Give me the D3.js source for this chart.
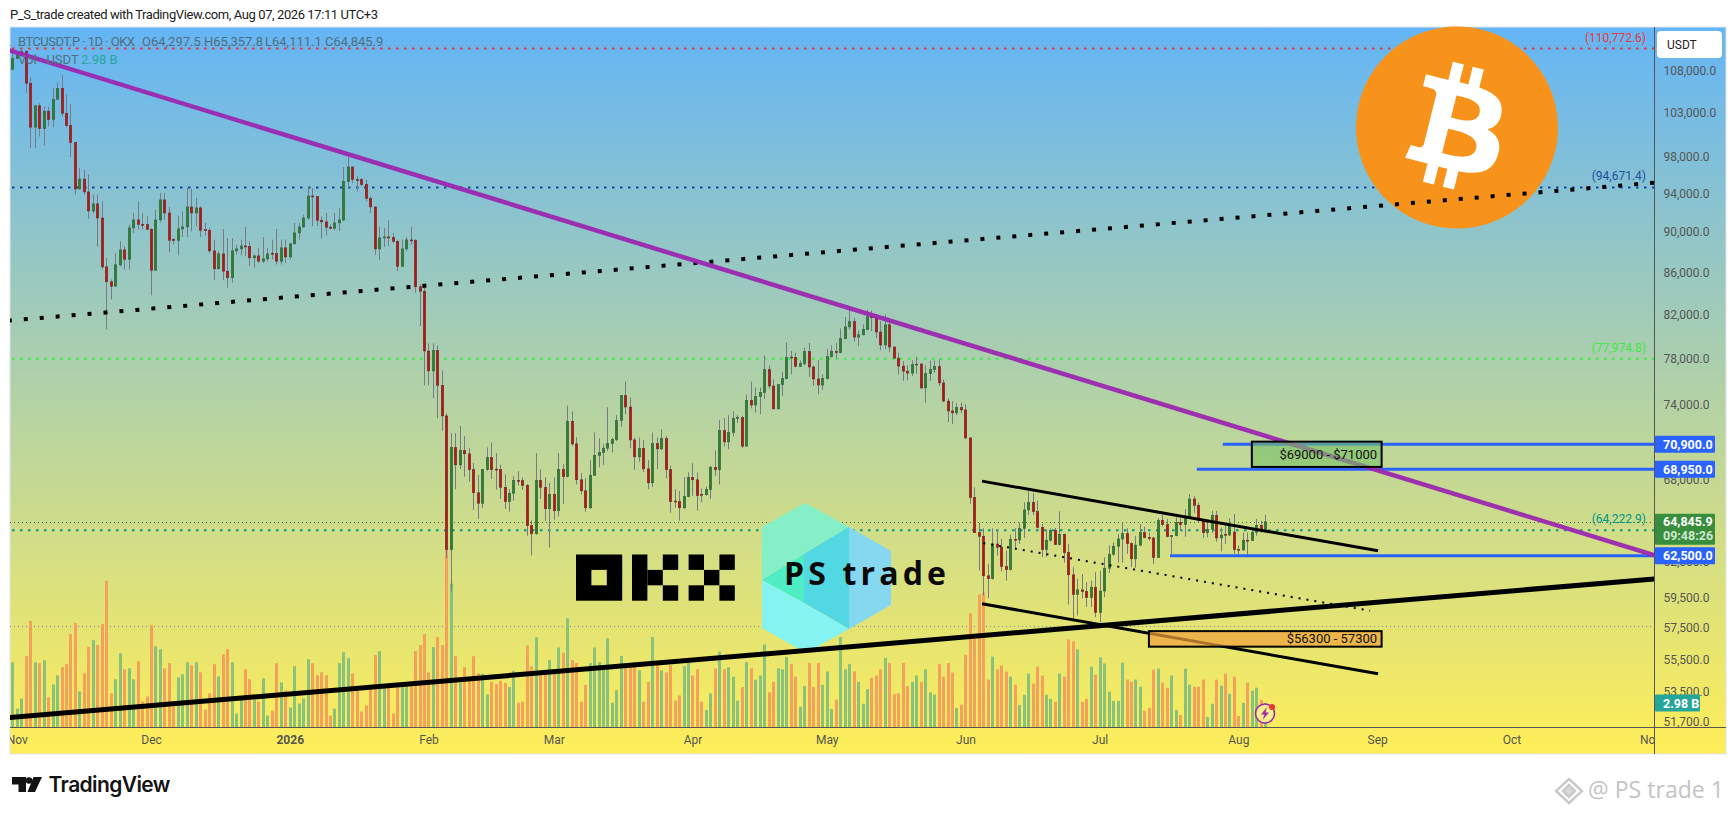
<!DOCTYPE html>
<html><head><meta charset="utf-8">
<script src="https://cdn.jsdelivr.net/npm/d3@7/dist/d3.min.js"></script>
<style>
html,body{margin:0;padding:0;background:#fff;overflow:hidden}
svg{display:block}
text{font-family:Roboto,"Liberation Sans",sans-serif}
</style></head><body>
<svg id="c" width="1736" height="815"></svg>
<script>
const firstDay = "2025-10-31";
const lastDay = "2026-08-07";
const opens = [108210,109560,109960,110440,106520,101350,103830,101190,103200,102230,
104600,105910,102960,101540,99600,94500,95570,94190,92180,92920,
91450,86530,85080,84660,86730,88210,87280,90430,91250,90800,
90770,90290,86200,91250,93340,91970,89250,89170,90330,90530,
92600,91970,92500,90260,90190,88110,86340,87810,86110,85470,
88110,88310,88600,88570,87420,87610,87090,87320,87880,87840,
87090,88410,87510,88810,89920,90530,91450,93760,93690,91210,
91050,90500,90400,90940,91250,95310,96880,95530,95500,94990,
93510,92600,88310,89410,89510,89440,89070,86590,88310,89210,
89170,84600,84180,78670,76920,78730,75680,73100,62840,70530,
69160,70300,70030,68780,67010,66220,68810,69740,68830,68780,
67420,66340,66970,67960,67930,67570,64560,63970,67960,67420,
65810,66890,65660,68810,68240,72660,70820,68000,67160,65880,
68340,69900,70140,70480,70850,71170,72720,74800,73840,71140,
69790,70460,68850,67770,70850,70420,71250,68780,66390,66340,
65880,66710,68190,68000,66900,66860,67270,68960,68780,71900,
70980,71740,72880,72960,70640,74390,74010,74720,75060,77030,
75620,73680,75740,76250,78140,78110,77320,77550,78620,77260,
76220,75700,76250,78170,78620,78530,79770,80850,81320,79920,
80130,80590,81780,81690,80380,79210,81040,79030,78040,77340,
76900,76730,77460,77520,75450,76680,77030,77290,75880,74340,
73510,73350,73790,73600,71300,66640,64050,63790,61000,60810,
63240,63010,61640,61430,63580,63530,64370,65720,66290,65590,
64440,62840,63510,64230,63190,63940,62620,61070,59730,60040,
59930,59520,60220,58530,59960,61530,62510,63080,63600,63980,
63260,62180,63160,64050,63690,63670,62270,64950,64640,63760,
63830,64810,64640,65260,66540,66060,64970,64050,64300,65320,
63670,63940,63880,64100,62840,62820,63510,63480,64080,64590,
64297.5];
const closes = [109560,109960,110440,106520,101350,103830,101190,103200,102230,104600,
105910,102960,101540,99600,94500,95570,94190,92180,92920,91450,
86530,85080,84660,86730,88210,87280,90430,91250,90800,90770,
90290,86200,91250,93340,91970,89170,89170,90330,90530,92600,
91970,92500,90190,90190,88110,86340,87810,86110,85470,88110,
88310,88600,88570,87420,87610,87090,87320,87810,87840,87090,
88410,87510,88810,89920,90530,91450,93760,93690,91210,91050,
90500,90400,90940,91250,95310,96880,95530,95500,94990,93510,
92600,88310,89410,89510,89440,89070,86590,88310,89210,89170,
84600,84180,78670,76920,78730,75680,73100,62840,70530,69160,
70300,70030,68780,67010,66220,68810,69740,68780,68780,67420,
66340,66970,67960,67930,67570,64560,63970,67960,67420,65810,
66890,65660,68810,68240,72660,70820,68000,67160,65880,68340,
69900,70140,70480,70850,71170,72720,74800,73840,71140,69790,
70460,68850,67770,70850,70420,71250,68780,66340,66340,65880,
66710,68190,68000,66790,66860,67270,68960,68780,71900,70980,
71740,72880,72960,70640,74390,74010,74720,75060,77030,75620,
73680,75740,76250,78080,78110,77320,77550,78620,77260,76220,
75700,76250,78170,78620,78530,79770,80850,81320,79920,80130,
80590,81780,81690,80380,79210,81040,79030,78040,77340,76900,
76730,77460,77520,75450,76680,77030,77290,75880,74340,73510,
73350,73790,73600,71300,66640,64050,63790,61000,60810,63240,
63010,61640,61430,63580,63530,64370,65720,66290,65590,64440,
62840,63510,64230,63190,63940,62620,61070,59730,60040,59930,
59520,60220,58530,59960,61530,62510,63080,63600,63980,63260,
62180,63160,64050,63690,63670,62270,64950,64640,63760,63830,
64810,64640,65260,66540,66060,64970,64050,64300,65320,63670,
63880,63880,64610,62840,62820,63510,63480,64080,64590,64270,
64845.9];
const highs = [110500,110370,110772.6,110560,107240,103900,104130,103750,103750,105910,
106600,107480,105200,104050,99650,96770,96580,96040,93900,93900,
93190,87420,85300,87910,89070,88570,90770,91970,93190,91970,
91620,90430,92320,94080,94080,92600,89410,91690,92140,94610,
94500,93550,92670,90940,90430,89240,88070,90330,89410,89410,
88740,89240,90530,89070,87740,88410,89510,88410,89240,90330,
89240,89240,88920,90940,90940,91800,94780,94610,93720,91620,
91970,90770,91970,92500,96880,97980,96950,95860,95680,95500,
93720,92670,90530,90430,91180,89920,89240,89240,89510,90530,
89310,84820,84660,79350,79350,79170,76970,73320,71690,71690,
72280,71440,70480,69300,68370,68830,70530,70930,70090,69190,
68420,67290,68270,68670,68190,67680,64950,70090,68810,68190,
67760,68190,70090,69220,73950,73460,71360,68520,68130,69530,
71740,71280,70800,73810,71330,73160,74850,76000,74630,71330,
71330,71120,69530,71740,71330,72010,71470,69100,67290,67140,
68210,68570,69300,68570,67340,67500,69090,70300,72750,72910,
73160,73490,73160,73100,74890,76000,75480,75480,78280,77400,
76190,75740,76830,79440,78670,78530,77850,78970,79400,77400,
77850,76620,78880,79180,79400,80710,81780,82770,81690,80500,
81070,82460,82370,82000,81370,82000,81220,79110,78530,77780,
77400,77850,78170,77590,77400,77820,77820,77990,76190,74570,
74320,74150,74210,74070,71360,67420,64760,64370,61830,64370,
64320,63600,62770,63910,64370,64810,66290,67120,66970,66410,
64690,64250,64370,64390,65620,63980,63240,61600,60790,61130,
60560,60670,61250,61340,62300,63140,63360,63960,64810,64370,
63360,63830,64690,64490,64050,63760,65100,65340,65050,63880,
65170,65100,65790,66920,66790,66290,65050,64920,65660,65660,
64440,64560,65100,65410,63140,64050,64050,64370,65050,64920,
65357.8];
const lows = [108100,109450,109840,105320,98980,98980,100280,99270,101420,101350,
104520,102580,101350,97980,93900,94430,93900,91350,91970,88570,
86340,80620,83400,84660,86590,86270,86270,89920,90260,90260,
90260,83770,86200,91010,91280,87970,88740,87670,89510,89510,
90090,90600,89510,89650,87910,85230,86270,85230,84510,84980,
87740,87640,87570,86590,86440,86900,86900,87050,87250,86760,
86760,86900,87250,88740,89240,90430,91280,90600,90600,89310,
89650,90260,90190,90090,91120,94540,95140,94250,94780,93190,
91970,87740,87170,88500,88610,88920,86110,86530,88070,88740,
84030,80920,75680,75680,74570,72910,71870,62230,59930,67290,
68830,68240,67850,65740,65050,65860,68700,68060,67240,66540,
65790,65590,66410,67570,67220,63830,62410,63900,66540,64920,
62990,65000,65240,66170,68190,70660,67640,66890,65590,65790,
68310,68960,69160,70270,70140,71060,72200,73240,70480,68780,
69400,68610,67290,67440,68830,70340,68110,65510,65880,64920,
65790,66660,66790,65660,66290,66790,66540,68310,67640,70610,
70400,71420,72510,70500,70610,73730,73380,73240,74490,75390,
73650,73650,74770,76190,76620,77230,77260,77400,76390,75620,
74920,75280,76190,78080,78000,78470,79710,80620,79490,79110,
80070,80560,80470,79830,78730,78820,78590,77990,76620,76060,
76100,76480,76700,75390,74180,76060,76760,75620,74260,72600,
72430,73160,73320,71200,66170,64020,61360,59660,59480,60740,
62410,61290,60670,61360,62890,63240,63670,65340,65340,64370,
62300,62300,63410,63170,63140,61920,59060,58110,58320,59440,
58880,58880,58210,57850,59550,61200,62410,61920,61920,62530,
61600,61550,63080,63650,63480,61830,62270,64520,63720,62530,
63790,64200,63760,65210,65480,64810,63670,63720,64050,63410,
62700,63240,63830,62530,62300,62730,62300,63480,63830,64050,
64111.1];
const volumes = [8.04,2.29,3.54,8.79,13.17,8.04,7.92,8.29,3.67,5.29,
6.42,7.42,7.79,11.54,12.92,4.42,6.67,9.92,10.79,10.17,
12.79,18.17,4.17,5.92,9.17,7.17,7.29,5.92,8.17,3.17,
3.79,12.67,10.04,9.67,7.29,7.92,2.58,6.17,6.54,8.04,
7.67,8.04,6.79,2.17,4.17,7.79,6.29,9.04,9.67,8.04,
1.67,3.42,7.17,5.92,3.42,3.17,6.04,1.42,2.04,7.92,
5.54,4.54,2.42,7.54,2.92,3.54,8.42,7.92,6.42,6.79,
6.42,1.42,2.29,7.92,9.29,8.54,6.67,4.67,1.92,2.67,
4.67,8.92,9.42,4.88,5.29,1.67,5.08,5.08,5.08,5.08,
9.42,10.17,11.54,6.79,9.92,11.17,10.17,22.2,17.8,8.8,
5.5,7.42,5.71,8.79,6.67,6.64,4.05,5.6,5.34,5.73,
5.47,4.96,6.98,3.02,3.15,10.13,7.54,11.16,6.98,6.77,
8.32,6.77,9.87,9.22,13.49,8.32,7.93,3.15,5.22,7.93,
9.87,8.06,7.16,11.03,3.02,4.57,8.84,7.8,7.8,8.06,
7.03,3.15,5.6,11.16,7.8,7.03,6.77,7.67,3.28,3.92,
7.54,8.32,6.38,7.16,3.15,2.11,4.18,7.28,9.35,7.16,
7.41,6.25,3.28,4.96,8.06,7.28,5.86,6.38,10.26,4.31,
5.6,7.28,7.16,8.71,7.8,6.25,2.5,5.09,7.93,4.96,
7.93,5.22,6.9,2.24,3.41,11.16,7.16,7.8,6.9,5.6,
2.89,4.7,6.12,6.38,7.16,8.58,7.93,4.05,4.18,7.93,
5.09,5.6,6.38,5.6,7.16,4.31,4.05,7.8,6.25,7.93,
6.77,2.37,2.76,8.97,14.14,10.91,16.47,16.71,5.88,8.75,
7.13,7.63,6.88,6.25,5.25,2.75,4,6.63,5.38,7.5,
6.38,4,3.5,3.13,6.63,6.25,10.88,10.63,9.63,3.13,
3.5,7.5,6.5,8.63,7.88,4.38,3.25,3.25,8,5.88,
5.63,5.88,5,2,2.38,7.13,7.25,5.5,4.88,6.38,
2.13,1.5,7.25,5.25,5,5,5.88,1.25,2.88,5.88,
5.13,6.63,4.13,6.25,1.38,3,5.5,4.5,4.88,3.38,
2.98];
const priceTicks = [108000,103000,98000,94000,90000,86000,82000,78000,74000,68000,62000,59500,57500,55500,53500,51700];
const monthTicks = ["2025-11-01","2025-12-01","2026-01-01","2026-02-01","2026-03-01","2026-04-01","2026-05-01","2026-06-01","2026-07-01","2026-08-01","2026-09-01","2026-10-01","2026-11-01"];
const monthNames = ["Nov","Dec","2026","Feb","Mar","Apr","May","Jun","Jul","Aug","Sep","Oct","Nov"];
const levelPrices = [110772.6,94671.4,77974.8,64222.9];
const levelTexts = ["(110,772.6)","(94,671.4)","(77,974.8)","(64,222.9)"];
const levelColors = ["#e53935","#0d47a1","#37f03c","#009688"];
const thinPrices = [111200,64845.9,57640];
const thinColors = ["#7f8f99","#2e7d32","#7a80b8"];
const trendPurple = [["2025-10-30",110620],["2026-11-02",62430]];
const trendDotted = [["2025-10-30",81420],["2026-11-02",95180]];
const trendThick = [["2025-10-30",51950],["2026-11-02",60790]];
const channelUpper = [["2026-06-04T17:00Z",67900],["2026-09-01T05:00Z",62750]];
const channelLower = [["2026-06-04T17:00Z",59100],["2026-09-01T05:00Z",54600]];
const channelMid = [["2026-06-05",63300],["2026-08-30T10:00Z",58640]];
const rayPrices = [70790,68810,62400];
const rayStarts = ["2026-07-28T12:00Z","2026-07-22T17:00Z","2026-07-16T17:00Z"];
const rayEnd = "2026-11-02";
const zoneNames = ["$69000 - $71000","$56300 - 57300"];
const zoneHigh = [71000,57300];
const zoneLow = [69000,56300];
const zoneStart = ["2026-08-04","2026-07-12"];
const zoneEnd = ["2026-09-02","2026-09-02"];
const zoneFill = ["#79c268","#f0a23c"];
const legendNames = ["BTCUSDT.P · 1D · OKX","O64,297.5","H65,357.8","L64,111.1","C64,845.9"];
const tagTexts = ["70,900.0","68,950.0","62,500.0"];

const UTC = s => new Date(s.length===10 ? s+"T00:00Z" : s);
const days = d3.utcDay.range(UTC(firstDay), d3.utcDay.offset(UTC(lastDay),1));
const x = d3.scaleUtc().domain([UTC(firstDay),UTC("2026-11-01")]).range([12.3,1650.1]);
const y = d3.scaleLog().domain([108000,51700]).range([71,722]);
const v = d3.scaleLinear().domain([0,2.98]).range([727,703]);

const svg = d3.select("#c");
const defs = svg.append("defs");
const g = defs.append("linearGradient").attr("id","bg").attr("x1",0).attr("x2",0).attr("y1",0).attr("y2",1);
g.append("stop").attr("offset",0).attr("stop-color","#64b5f6");
g.append("stop").attr("offset",1).attr("stop-color","#ffee58");
defs.append("clipPath").attr("id","plot").append("rect").attr("x",10).attr("y",27).attr("width",1644).attr("height",700);
defs.append("clipPath").attr("id","tax").append("rect").attr("x",10).attr("y",728).attr("width",1644).attr("height",26);

svg.append("text").attr("x",10).attr("y",19).attr("font-size",13).attr("fill","#222").attr("textLength",368).text("P_S_trade created with TradingView.com, Aug 07, 2026 17:11 UTC+3");
svg.append("rect").attr("x",10).attr("y",27).attr("width",1716).attr("height",727).attr("fill","url(#bg)").attr("stroke","#e0e3eb").attr("stroke-width",1);

const plot = svg.append("g").attr("clip-path","url(#plot)");
// thin levels
plot.selectAll(".thin").data(thinPrices).join("line").attr("x1",10).attr("x2",1654)
 .attr("y1",d=>Math.round(y(d))+.5).attr("y2",d=>Math.round(y(d))+.5)
 .attr("stroke",(d,i)=>thinColors[i]).attr("stroke-width",1).attr("stroke-dasharray","1 3");
// volumes
const isUp = i => closes[i]>=opens[i];
plot.selectAll(".vol").data(volumes).join("rect")
 .attr("x",(d,i)=>Math.round(x(days[i]))-1).attr("width",3)
 .attr("y",d=>v(d)).attr("height",d=>727-v(d))
 .attr("fill",(d,i)=>isUp(i)?"#8ac27c":"#f4a15c");
// levels
plot.selectAll(".lvl").data(levelPrices).join("line").attr("x1",12).attr("x2",1654)
 .attr("y1",d=>y(d)).attr("y2",d=>y(d))
 .attr("stroke",(d,i)=>levelColors[i]).attr("stroke-width",2).attr("stroke-dasharray","2.5 5.5");
// candles
plot.selectAll(".wick").data(days).join("line")
 .attr("x1",d=>Math.round(x(d))+.5).attr("x2",d=>Math.round(x(d))+.5)
 .attr("y1",(d,i)=>y(highs[i])).attr("y2",(d,i)=>y(lows[i]))
 .attr("stroke","#787b86").attr("stroke-width",1);
plot.selectAll(".body").data(days).join("rect")
 .attr("x",d=>Math.round(x(d))-.75).attr("width",2.5)
 .attr("y",(d,i)=>y(Math.max(opens[i],closes[i])))
 .attr("height",(d,i)=>Math.max(1,Math.abs(y(opens[i])-y(closes[i]))))
 .attr("fill",(d,i)=>isUp(i)?"#2e7d32":"#b71414")
 .attr("stroke",(d,i)=>isUp(i)?"#2f5f3a":"#6b2a2a").attr("stroke-width",.5);

// logos
const btc = svg.append("g").attr("transform","translate(1356,26.5) scale(3.156)");
btc.append("path").attr("fill","#f7931a").attr("d","M63.04 39.741c-4.274 17.143-21.638 27.575-38.783 23.301C7.12 58.768-3.313 41.404.962 24.262 5.234 7.117 22.597-3.317 39.737.957c17.144 4.274 27.576 21.64 23.302 38.784z");
btc.append("path").attr("fill","#fff").attr("d","M46.11 27.441c.636-4.258-2.606-6.547-7.039-8.074l1.438-5.768-3.512-.875-1.4 5.616c-.922-.23-1.87-.447-2.812-.662l1.41-5.653-3.509-.875-1.439 5.766c-.764-.174-1.514-.346-2.242-.527l.004-.018-4.842-1.209-.934 3.75s2.605.597 2.55.634c1.422.355 1.68 1.296 1.636 2.042l-1.638 6.571c.098.025.225.061.365.117l-.37-.092-2.297 9.205c-.174.432-.615 1.08-1.609.834.035.051-2.552-.637-2.552-.637l-1.743 4.02 4.57 1.139c.85.213 1.683.436 2.502.646l-1.453 5.835 3.507.875 1.44-5.772c.957.26 1.887.5 2.797.726L27.504 50.8l3.511.875 1.453-5.823c5.987 1.133 10.49.676 12.383-4.738 1.527-4.36-.075-6.875-3.225-8.516 2.294-.531 4.022-2.04 4.483-5.157zM38.087 38.69c-1.086 4.36-8.426 2.004-10.807 1.412l1.928-7.729c2.38.594 10.011 1.77 8.88 6.317zm1.085-11.312c-.99 3.966-7.1 1.951-9.082 1.457l1.748-7.01c1.982.494 8.365 1.416 7.334 5.553z");

const okx = svg.append("g").attr("transform","translate(576,554.5)").attr("fill","#000");
const cell = 15.4;
[[0,0,3,3],[56/cell,0,1,3],[56/cell+1,1,1,1],[56/cell+2,0,1,1],[56/cell+2,2,1,1],
 [112.6/cell,0,1,1],[112.6/cell,2,1,1],[112.6/cell+1,1,1,1],[112.6/cell+2,0,1,1],[112.6/cell+2,2,1,1]]
 .forEach(r=>okx.append("rect").attr("x",r[0]*cell).attr("y",r[1]*cell).attr("width",r[2]*cell).attr("height",r[3]*cell));
okx.append("rect").attr("x",cell).attr("y",cell).attr("width",cell).attr("height",cell).attr("fill","#dfe277");

[["#85f0c8","805,503 849,527 804,554 762,580 762,527"],
 ["#85d8f0","849,527 891,551 891,605 849,629"],
 ["#52d8e2","849,527 804,554 804,603 849,629"],
 ["#4fedc4","762,580 804,554 804,603"],
 ["#85f4f0","762,580 804,603 849,629 806,653 762,628"]]
 .forEach(p=>svg.append("polygon").attr("points",p[1]).attr("fill",p[0]));
svg.append("text").attr("x",784).attr("y",585).attr("font-size",32).attr("font-weight",700).attr("style","font-family:'Open Sans'").attr("textLength",162).attr("fill","#0a0a0a").text("PS trade");

// drawings
const draw = svg.append("g").attr("clip-path","url(#plot)");
const ln = d3.line().x(d=>x(UTC(d[0]))).y(d=>y(d[1]));
const path = (pts,col,w,dash)=>draw.append("path").attr("d",ln(pts)).attr("fill","none").attr("stroke",col).attr("stroke-width",w).attr("stroke-dasharray",dash||null);
path(trendDotted,"#000",4,"4 12");
path(trendThick,"#000",5);
path(channelUpper,"#000",3);
path(channelLower,"#000",3);
path(channelMid,"#000",2,"2 6");
rayPrices.forEach((p,i)=>path([[rayStarts[i],p],[rayEnd,p]],"#2962ff",3));
path(trendPurple,"#9c27b0",4.5).attr("stroke-opacity",.95);
zoneNames.forEach((n,i)=>{
 const x0=x(UTC(zoneStart[i])),x1=x(UTC(zoneEnd[i])),y0=y(zoneHigh[i]),y1=y(zoneLow[i]);
 draw.append("rect").attr("x",x0).attr("y",y0).attr("width",x1-x0).attr("height",y1-y0).attr("fill",zoneFill[i]).attr("fill-opacity",i?0.72:0.62).attr("stroke","#000").attr("stroke-width",2);
 draw.append("text").attr("x",x1-4.5).attr("y",(y0+y1)/2+4.5).attr("text-anchor","end").attr("font-size",13).attr("fill","#111").text(n);
});

// level labels
svg.selectAll(".ll").data(levelTexts).join("text").attr("x",1646).attr("y",(d,i)=>y(levelPrices[i])-7)
 .attr("text-anchor","end").attr("font-size",12).attr("fill",(d,i)=>levelColors[i]=="#0d47a1"?"#1d4f9f":levelColors[i]=="#37f03c"?"#3fe845":levelColors[i]).text(d=>d);

// legend
svg.append("text").attr("x",18).attr("y",46).attr("font-size",13).attr("fill","#4f6f7c").attr("textLength",117).text(legendNames[0]);
[142,204,265,325].forEach((px,i)=>svg.append("text").attr("x",px).attr("y",46).attr("font-size",13).attr("fill","#4f6f7c").text(legendNames[i+1]));
svg.append("text").attr("x",18).attr("y",64).attr("font-size",13).attr("fill","#4f6f7c").text("Vol · USDT");
svg.append("text").attr("x",81).attr("y",64).attr("font-size",13).attr("fill","#26a69a").text("2.98 B");

// axes
svg.append("line").attr("x1",1654.5).attr("x2",1654.5).attr("y1",27).attr("y2",754).attr("stroke","#555").attr("stroke-width",1);
svg.append("line").attr("x1",10).attr("x2",1726).attr("y1",727.5).attr("y2",727.5).attr("stroke","#555").attr("stroke-width",1);

const ya = svg.append("g").attr("transform","translate(1654.5,0)")
 .call(d3.axisRight(y).tickValues(priceTicks).tickFormat(d3.format(",.1f")).tickSize(0).tickPadding(9));
ya.select(".domain").remove();
ya.selectAll("text").attr("font-size",12).attr("fill","#555").style("font-family","Roboto");

const xa = svg.append("g").attr("clip-path","url(#tax)").append("g").attr("transform","translate(0,727.5)")
 .call(d3.axisBottom(x).tickValues(monthTicks.map(UTC)).tickFormat((d,i)=>monthNames[i]).tickSize(0).tickPadding(8));
xa.select(".domain").remove();
xa.selectAll("text").attr("font-size",12).attr("fill","#555").attr("font-weight",(d,i)=>i==2?700:400).style("font-family","Roboto");

// USDT button
svg.append("rect").attr("x",1657).attr("y",31).attr("width",65).attr("height",27).attr("rx",4).attr("fill","#fff");
svg.append("text").attr("x",1667).attr("y",49).attr("font-size",12).attr("fill","#222").text("USDT");

// tags
rayPrices.forEach((p,i)=>{
 svg.append("rect").attr("x",1655).attr("y",y(p)-8.5).attr("width",60).attr("height",17).attr("rx",1).attr("fill","#2962ff");
 svg.append("text").attr("x",1663).attr("y",y(p)+4.5).attr("font-size",12.5).attr("font-weight",700).attr("fill","#fff").text(tagTexts[i]);
});
svg.append("rect").attr("x",1655).attr("y",y(closes[280])-8).attr("width",60).attr("height",31).attr("rx",1).attr("fill","#388e3c");
svg.append("text").attr("x",1663).attr("y",y(closes[280])+4.5).attr("font-size",12.5).attr("font-weight",700).attr("fill","#fff").text("64,845.9");
svg.append("text").attr("x",1663).attr("y",y(closes[280])+18.5).attr("font-size",12.5).attr("font-weight",700).attr("fill","#cfe6d0").text("09:48:26");
svg.append("rect").attr("x",1655).attr("y",v(volumes[280])-8.5).attr("width",45).attr("height",17).attr("rx",1).attr("fill","#26a69a");
svg.append("text").attr("x",1663).attr("y",v(volumes[280])+4.5).attr("font-size",12.5).attr("font-weight",700).attr("fill","#fff").text("2.98 B");

// lightning badge
svg.append("circle").attr("cx",1265).attr("cy",713.5).attr("r",9.5).attr("fill","#f7ef8a").attr("stroke","#9c27b0").attr("stroke-width",1.6);
svg.append("path").attr("d","M1267 707 L1261 714.5 L1264.5 714.5 L1262.5 720 L1269 712.5 L1265.5 712.5 Z").attr("fill","#9c27b0");
svg.append("circle").attr("cx",1272).attr("cy",707).attr("r",3).attr("fill","#e53935");

// TradingView mark
svg.append("path").attr("fill","#131313").attr("d","M12 777H26V792H18.5V784.5H12Z M33.5 777H42L35 792H27.5Z");
svg.append("circle").attr("cx",29).attr("cy",780.5).attr("r",3.3).attr("fill","#131313");
svg.append("text").attr("x",48.5).attr("y",792).attr("font-size",21).attr("font-weight",600).attr("fill","#131313").attr("style","font-family:Inter").attr("textLength",122).text("TradingView");

// watermark
const wm = svg.append("g").attr("fill","none").attr("stroke","#c9c9c9").attr("stroke-width",2.4);
wm.append("path").attr("d","M1569 779 L1582 791 L1569 803 L1556 791 Z");
wm.append("path").attr("d","M1569 785 L1575 791 L1569 797 L1563 791 Z").attr("fill","#d8d8d8");
svg.append("text").attr("x",1588).attr("y",798).attr("font-size",23).attr("fill","#c4c4c4").attr("style","font-family:'Open Sans'").attr("textLength",136).text("@ PS trade 1");
</script>
</body></html>
